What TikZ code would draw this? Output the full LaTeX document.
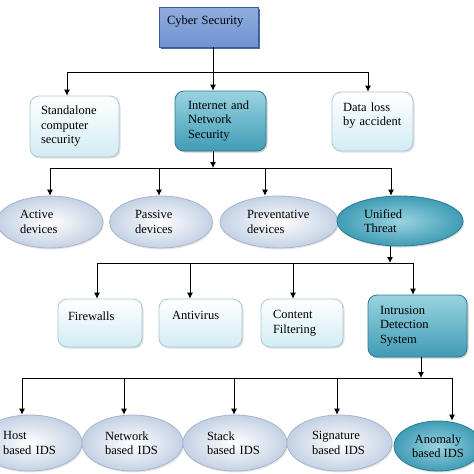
\documentclass[tikz,border=0pt]{standalone}
\usepackage{fontspec}
\setmainfont{Liberation Serif}
\usetikzlibrary{shapes.geometric}
\usetikzlibrary{shadows}
\usetikzlibrary{arrows.meta}

\definecolor{cyberTop}{HTML}{8FACDC}
\definecolor{cyberMid}{HTML}{ADC5EE}
\definecolor{cyberBot}{HTML}{7094D2}
\definecolor{cyberLine}{HTML}{3A5A9A}
\definecolor{paleBot}{HTML}{D2ECF4}
\definecolor{paleLine}{HTML}{A9C6D4}
\definecolor{tealTop}{HTML}{9AD3E0}
\definecolor{tealBot}{HTML}{3F9CB5}
\definecolor{tealLine}{HTML}{2C7C90}
\definecolor{ovalOut}{HTML}{C4D1E4}
\definecolor{ovalLine}{HTML}{A7B6CC}

\begin{document}
\begin{tikzpicture}[x = 1pt, y = -1pt, >={Latex[length=6pt,width=6pt]}, line width = 0.8pt,
		every node/.style = {font = \fontsize{12.5}{14.5}\selectfont, align = left, inner xsep = 0pt},
		headbox/.style = {rectangle, draw = cyberLine, top color = cyberTop, middle color = cyberMid, bottom color = cyberBot,
			drop shadow = {shadow xshift = 2pt, shadow yshift = -2pt, fill = cyberLine, opacity = 0.9}},
		palebox/.style = {rectangle, rounded corners = 9pt, draw = paleLine, top color = white, bottom color = paleBot,
			drop shadow = {shadow xshift = 1.5pt, shadow yshift = -1.5pt, opacity = 0.25}},
		tealbox/.style = {rectangle, rounded corners = 9pt, draw = tealLine, top color = tealTop, bottom color = tealBot,
			drop shadow = {shadow xshift = 1.5pt, shadow yshift = -1.5pt, opacity = 0.4}},
		paleoval/.style = {ellipse, draw = ovalLine, inner color = white, outer color = ovalOut, inner sep = 0pt,
			drop shadow = {shadow xshift = 1pt, shadow yshift = -1.5pt, opacity = 0.2}},
		tealoval/.style = {ellipse, draw = tealLine, inner color = tealTop, outer color = tealBot, inner sep = 0pt,
			drop shadow = {shadow xshift = 1pt, shadow yshift = -1.5pt, opacity = 0.3}}]
			\path[use as bounding box] (0,0) rectangle (474,474);
			\clip (0,0) rectangle (474,474);
			\node[headbox, minimum width = 99pt, minimum height = 40pt, text width = 83pt] (cyber) at (208.5,27) {Cyber Security\\~};
			\node[palebox, minimum width = 89pt, minimum height = 61pt, text width = 67pt] (sa) at (74.5,126.5) {Standalone\\computer\\security};
			\node[tealbox, minimum width = 91pt, minimum height = 60pt, text width = 65pt] (inet) at (220.5,121) {Internet and\\Network\\Security};
			\node[palebox, minimum width = 81pt, minimum height = 59pt, text width = 59pt] (dloss) at (372.5,121.5) {Data loss\\by accident\\~};
			\node[paleoval, minimum width = 106pt, minimum height = 52pt, text width = 60pt] (act) at (50,222) {Active\\devices};
			\node[paleoval, minimum width = 103pt, minimum height = 52pt, text width = 52pt] (pas) at (161,222) {Passive\\devices};
			\node[paleoval, minimum width = 118pt, minimum height = 52pt, text width = 64pt] (prev) at (279,222) {Preventative\\devices};
			\node[tealoval, minimum width = 126pt, minimum height = 50pt, text width = 72pt] (uni) at (400,221) {Unified\\Threat};
			\node[palebox, minimum width = 84pt, minimum height = 48pt, text width = 64pt] (fw) at (100,323) {Firewalls\\~};
			\node[palebox, minimum width = 83pt, minimum height = 48pt, text width = 57pt] (av) at (200.5,323) {Antivirus\\~};
			\node[palebox, minimum width = 82pt, minimum height = 48pt, text width = 58pt] (cf) at (302,323) {Content\\Filtering};
			\node[tealbox, minimum width = 99pt, minimum height = 62pt, text width = 75pt] (ids) at (417.5,326) {Intrusion\\Detection\\System};
			\node[paleoval, minimum width = 104pt, minimum height = 56pt, text width = 54pt] (host) at (30,443) {Host\\based IDS};
			\node[paleoval, minimum width = 101pt, minimum height = 56pt, text width = 55pt] (net) at (132.5,443) {Network\\based IDS};
			\node[paleoval, minimum width = 104pt, minimum height = 56pt, text width = 56pt] (stk) at (235,443) {Stack\\based IDS};
			\node[paleoval, minimum width = 105pt, minimum height = 56pt, text width = 55pt] (sig) at (339.5,443) {Signature\\based IDS};
			\node[tealoval, minimum width = 88pt, minimum height = 50pt, align = center] (ano) at (438,446) {Anomaly\\based IDS};
			\foreach \n/\x in {sa/67, inet/213, dloss/368}
				\coordinate (d-\n) at (\x,72);
			\draw (d-inet |- cyber.south) -- (d-inet);
			\draw (d-sa) -- (d-dloss);
			\foreach \n in {sa, inet, dloss}
				\path[->] (d-\n) edge (d-\n |- \n.north);
			\foreach \n/\x in {act/50, pas/159, prev/265, uni/391}
				\coordinate (d-\n) at (\x,168);
			\coordinate (s-inet) at (213,168);
			\path[->] (s-inet |- inet.south) edge (s-inet);
			\draw (d-act) -- (d-uni);
			\foreach \n in {act, pas, prev, uni}
				\path[->] (d-\n) edge (d-\n |- \n.north);
			\foreach \n/\x in {fw/97, av/190, cf/293, ids/413}
				\coordinate (d-\n) at (\x,263);
			\coordinate (s-uni) at (390,263);
			\path[->] (s-uni |- uni.south) edge (s-uni);
			\draw (d-fw) -- (d-ids);
			\foreach \n in {fw, av, cf, ids}
				\path[->] (d-\n) edge (d-\n |- \n.north);
			\foreach \n/\x in {host/22, net/124, stk/234, sig/337, ano/452}
				\coordinate (d-\n) at (\x,378);
			\coordinate (s-ids) at (421,378);
			\path[->] (s-ids |- ids.south) edge (s-ids);
			\draw (d-host) -- (d-ano);
			\foreach \n in {host, net, stk, sig, ano}
				\path[->] (d-\n) edge (d-\n |- \n.north);
		\end{tikzpicture}
\end{document}
